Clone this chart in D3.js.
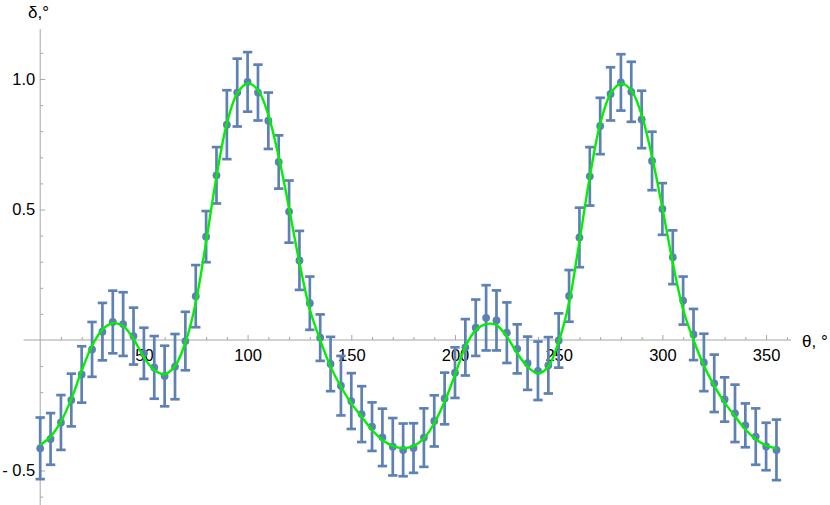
<!DOCTYPE html>
<html>
<head>
<meta charset="utf-8">
<script src="https://cdn.jsdelivr.net/npm/d3@7"></script>
<style>
  body { margin: 0; background: #fff; }
  text { font-family: "Liberation Sans", Arial, Helvetica, sans-serif; }
</style>
</head>
<body>
<div id="chart"></div>
<script>
// measured angles, degrees
var theta = [0, 5, 10, 15, 20, 25, 30, 35, 40, 45, 50, 55, 60, 65, 70, 75, 80, 85, 90, 95,
  100, 105, 110, 115, 120, 125, 130, 135, 140, 145, 150, 155, 160, 165, 170, 175, 180, 185, 190, 195,
  200, 205, 210, 215, 220, 225, 230, 235, 240, 245, 250, 255, 260, 265, 270, 275, 280, 285, 290, 295,
  300, 305, 310, 315, 320, 325, 330, 335, 340, 345, 350, 355];

// measured delta values
var delta = [-0.415, -0.379, -0.316, -0.230, -0.132, -0.036, 0.032, 0.069, 0.061, 0.015,
  -0.051, -0.105, -0.138, -0.102, -0.004, 0.168, 0.396, 0.631, 0.825, 0.948,
  0.989, 0.948, 0.840, 0.682, 0.492, 0.305, 0.141, 0.009, -0.092, -0.175,
  -0.234, -0.284, -0.332, -0.373, -0.409, -0.421, -0.414, -0.374, -0.310, -0.224,
  -0.125, -0.028, 0.047, 0.085, 0.075, 0.028, -0.034, -0.089, -0.118, -0.097,
  -0.002, 0.169, 0.393, 0.627, 0.820, 0.943, 0.987, 0.951, 0.845, 0.686,
  0.502, 0.317, 0.151, 0.021, -0.086, -0.166, -0.228, -0.281, -0.327, -0.370,
  -0.408, -0.421];

// half length of each error bar
var deltaErr = [0.118, 0.099, 0.105, 0.101, 0.108, 0.105, 0.110, 0.120, 0.122, 0.109,
  0.098, 0.120, 0.116, 0.125, 0.112, 0.119, 0.098, 0.108, 0.132, 0.130,
  0.114, 0.107, 0.108, 0.102, 0.119, 0.113, 0.102, 0.089, 0.104, 0.114,
  0.107, 0.107, 0.093, 0.110, 0.110, 0.101, 0.095, 0.112, 0.098, 0.099,
  0.097, 0.108, 0.108, 0.125, 0.115, 0.116, 0.094, 0.102, 0.112, 0.108,
  0.104, 0.099, 0.114, 0.112, 0.108, 0.102, 0.108, 0.115, 0.110, 0.112,
  0.099, 0.103, 0.092, 0.098, 0.110, 0.110, 0.085, 0.110, 0.084, 0.108,
  0.091, 0.116];

var fitDelta = [-0.402, -0.370, -0.313, -0.226, -0.118, -0.022, 0.040, 0.064, 0.054, 0.004,
  -0.066, -0.115, -0.131, -0.100, -0.010, 0.143, 0.377, 0.626, 0.830, 0.945,
  0.983, 0.958, 0.862, 0.702, 0.505, 0.296, 0.117, 0.000, -0.102, -0.179,
  -0.243, -0.294, -0.345, -0.383, -0.406, -0.415, -0.406, -0.377, -0.319, -0.236,
  -0.134, -0.026, 0.038, 0.061, 0.057, 0.013, -0.051, -0.102, -0.128, -0.102,
  -0.006, 0.143, 0.378, 0.625, 0.828, 0.944, 0.982, 0.957, 0.862, 0.702,
  0.506, 0.296, 0.117, 0.000, -0.098, -0.176, -0.240, -0.292, -0.343, -0.380,
  -0.404, -0.416];

var xTicks = [50, 100, 150, 200, 250, 300, 350];
var xMinor = [10, 20, 30, 40, 60, 70, 80, 90, 110, 120, 130, 140, 160, 170, 180, 190,
  210, 220, 230, 240, 260, 270, 280, 290, 310, 320, 330, 340, 360];
var yTicks = [-0.5, 0.5, 1.0];
var yTickLabels = ["- 0.5", "0.5", "1.0"];
var yMinor = [-0.6, -0.4, -0.3, -0.2, -0.1, 0.1, 0.2, 0.3, 0.4, 0.6, 0.7, 0.8, 0.9, 1.1];

var width = 830,
  height = 505;

var blue = "#5e81b5",
  axisGray = "#a6a6a6";

var x = d3.scaleLinear().domain([0, 350]).range([40.2, 766.1]);
var y = d3.scaleLinear().domain([0, 1]).range([340, 79]);

var svg = d3.select("#chart").append("svg")
  .attr("width", width)
  .attr("height", height);

var points = theta.map(function(t, i) {
  return {t: t, v: delta[i], e: deltaErr[i], f: fitDelta[i]};
});

// x axis (ticks point up into the plot)
var xAxis = svg.append("g")
  .attr("transform", "translate(0," + y(0) + ")");

xAxis.append("line")
  .attr("x1", x(-8)).attr("x2", x(362))
  .attr("stroke", axisGray);

xAxis.append("g")
  .call(d3.axisBottom(x).tickValues(xMinor).tickSize(-3).tickFormat(""))
  .call(function(g) { g.select(".domain").remove(); })
  .selectAll("line").attr("stroke", axisGray);

xAxis.append("g")
  .call(d3.axisBottom(x).tickValues(xTicks).tickSize(-5).tickPadding(9).tickFormat(d3.format("d")))
  .call(function(g) {
    g.select(".domain").remove();
    g.selectAll("line").attr("stroke", axisGray);
    g.selectAll("text")
      .attr("fill", "#000")
      .style("font-size", "16.5px")
      .style("font-family", "'Liberation Sans', Arial, sans-serif");
  });

// y axis
var yAxis = svg.append("g")
  .attr("transform", "translate(" + x(0) + ",0)");

yAxis.append("line")
  .attr("y1", 29).attr("y2", height)
  .attr("stroke", axisGray);

yAxis.append("g")
  .call(d3.axisLeft(y).tickValues(yMinor).tickSize(-3).tickFormat(""))
  .call(function(g) { g.select(".domain").remove(); })
  .selectAll("line").attr("stroke", axisGray);

yAxis.append("g")
  .call(d3.axisLeft(y).tickValues(yTicks).tickSize(-5).tickPadding(5)
    .tickFormat(function(d, i) { return yTickLabels[i]; }))
  .call(function(g) {
    g.select(".domain").remove();
    g.selectAll("line").attr("stroke", axisGray);
    g.selectAll("text")
      .attr("fill", "#000")
      .style("font-size", "16.5px")
      .style("font-family", "'Liberation Sans', Arial, sans-serif");
  });

// axis labels
svg.append("text")
  .attr("x", 28)
  .attr("y", 18)
  .style("font-size", "17px")
  .text("δ,°");

svg.append("text")
  .attr("x", 802)
  .attr("y", 347)
  .style("font-size", "17px")
  .text("θ, °");

// error bars
var bars = svg.append("g")
  .attr("stroke", blue)
  .attr("stroke-width", 2.7);

var barEnter = bars.selectAll("g")
  .data(points)
  .enter()
  .append("g");

barEnter.append("line")
  .attr("x1", function(d) { return x(d.t); })
  .attr("x2", function(d) { return x(d.t); })
  .attr("y1", function(d) { return y(d.v + d.e); })
  .attr("y2", function(d) { return y(d.v - d.e); });

barEnter.append("line")
  .attr("x1", function(d) { return x(d.t) - 4.7; })
  .attr("x2", function(d) { return x(d.t) + 4.7; })
  .attr("y1", function(d) { return y(d.v + d.e); })
  .attr("y2", function(d) { return y(d.v + d.e); });

barEnter.append("line")
  .attr("x1", function(d) { return x(d.t) - 4.7; })
  .attr("x2", function(d) { return x(d.t) + 4.7; })
  .attr("y1", function(d) { return y(d.v - d.e); })
  .attr("y2", function(d) { return y(d.v - d.e); });

// data points
svg.append("g")
  .selectAll("circle")
  .data(points)
  .enter()
  .append("circle")
  .attr("cx", function(d) { return x(d.t); })
  .attr("cy", function(d) { return y(d.v); })
  .attr("r", 3.9)
  .attr("fill", blue);

// fit curve
var line = d3.line()
  .x(function(d) { return x(d.t); })
  .y(function(d) { return y(d.f); })
  .curve(d3.curveCatmullRom.alpha(0.5));

svg.append("path")
  .datum(points)
  .attr("d", line)
  .attr("fill", "none")
  .attr("stroke", "#00f000")
  .attr("stroke-width", 2.4);
</script>
</body>
</html>
